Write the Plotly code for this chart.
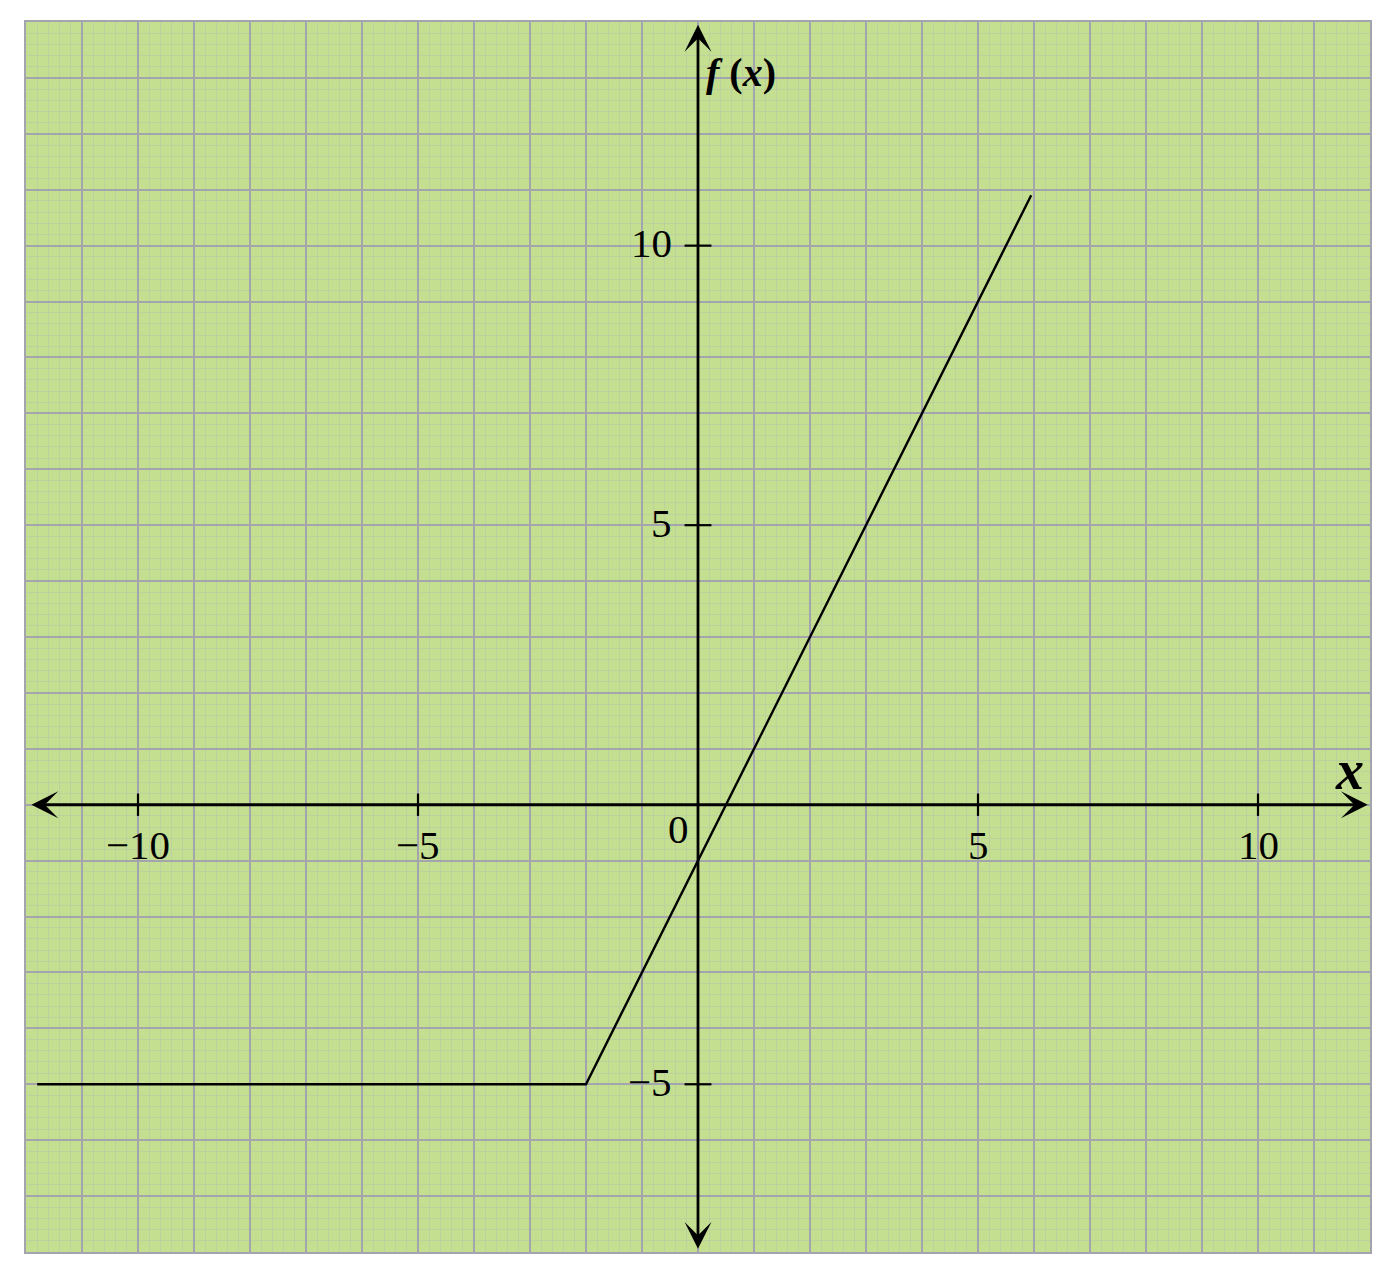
import plotly.graph_objects as go

## Data of the piecewise function f(x)
fx_x = [-11.8, -2, 5.95]
fx_y = [-5, -5, 10.9]

## Tick values and labels drawn on the centred axes
x_ticks = [-10, -5, 5, 10]
x_labels = ['\u221210', '\u22125', '5', '10']
y_ticks = [-5, 5, 10]
y_labels = ['\u22125', '5', '10']

x_range = [-12, 12]
y_range = [-8, 14]

green = '#c5df90'
major = '#a4a4ae'
minor = '#bbd29e'
serif = 'Liberation Serif'

fig = go.Figure()

fig.add_trace(go.Scatter(x=fx_x, y=fx_y, mode='lines',
                         line=dict(color='black', width=2.4),
                         hoverinfo='skip', showlegend=False))

## Axis lines with arrows at both ends
fig.add_annotation(x=x_range[1] - 0.04, y=0, ax=x_range[0] + 0.07, ay=0,
                   xref='x', yref='y', axref='x', ayref='y', text='',
                   showarrow=True, arrowhead=3, startarrowhead=3,
                   arrowside='end+start', arrowwidth=2.8, arrowsize=1.6,
                   startarrowsize=1.6, arrowcolor='black')
fig.add_annotation(x=0, y=y_range[1] - 0.05, ax=0, ay=y_range[0] + 0.03,
                   xref='x', yref='y', axref='x', ayref='y', text='',
                   showarrow=True, arrowhead=3, startarrowhead=3,
                   arrowside='end+start', arrowwidth=2.8, arrowsize=1.6,
                   startarrowsize=1.6, arrowcolor='black')

## Tick marks crossing the axes
shapes = []
for t in x_ticks:
    shapes.append(dict(type='line', xref='x', yref='y', x0=t, x1=t,
                       y0=-0.2, y1=0.2, line=dict(color='black', width=2.2)))
for t in y_ticks:
    shapes.append(dict(type='line', xref='x', yref='y', x0=-0.24, x1=0.24,
                       y0=t, y1=t, line=dict(color='black', width=2.2)))
fig.update_layout(shapes=shapes)

## Tick labels
for t, lab in zip(x_ticks, x_labels):
    fig.add_annotation(x=t, y=-0.72, text=lab, showarrow=False,
                       xref='x', yref='y', xanchor='center', yanchor='middle',
                       font=dict(family=serif, size=41, color='black'))
for t, lab in zip(y_ticks, y_labels):
    fig.add_annotation(x=-0.42, y=t + 0.04, text=lab, showarrow=False,
                       xref='x', yref='y', xanchor='right', yanchor='middle',
                       font=dict(family=serif, size=41, color='black'))
fig.add_annotation(x=-0.34, y=-0.43, text='0', showarrow=False,
                   xref='x', yref='y', font=dict(family=serif, size=41, color='black'))

## Axis names
fig.add_annotation(x=0.77, y=13.1, text='<b><i>f</i></b> <b>(<i>x</i>)</b>',
                   showarrow=False, xref='x', yref='y',
                   font=dict(family=serif, size=40, color='black'))
fig.add_annotation(x=11.64, y=0.62, text='<b><i>x</i></b>',
                   showarrow=False, xref='x', yref='y',
                   font=dict(family=serif, size=56, color='black'))

axis_style = dict(showticklabels=False, ticks='', zeroline=False,
                  showgrid=True, gridcolor=major, gridwidth=2, dtick=1,
                  minor=dict(dtick=0.2, showgrid=True, gridcolor=minor, gridwidth=1),
                  showline=True, mirror=True, linecolor=major, linewidth=2)
fig.update_xaxes(range=x_range, tick0=0, **axis_style)
fig.update_yaxes(range=y_range, tick0=0, **axis_style)

## page body adds 8px margin, so shrink the figure to keep the plot in place
fig.update_layout(width=1381, height=1265,
                  margin=dict(l=18, r=19, t=12, b=21),
                  plot_bgcolor=green, paper_bgcolor='white',
                  showlegend=False)

fig.write_html("out.html")
